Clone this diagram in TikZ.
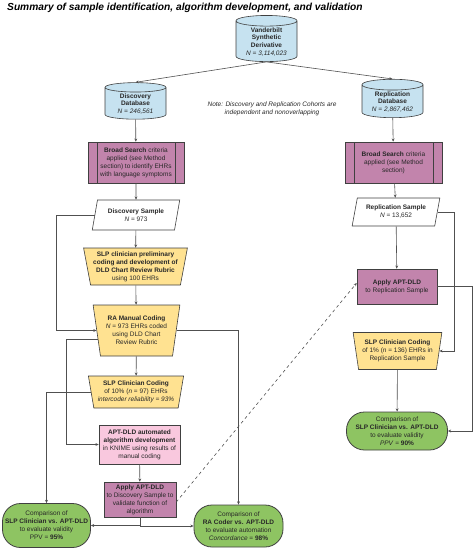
\documentclass[tikz,border=0pt]{standalone}
\usepackage{fontspec}
\setmainfont{Liberation Sans}
\usetikzlibrary{shapes.geometric,arrows.meta}
\definecolor{cdb}{RGB}{198,226,240}
\definecolor{cproc}{RGB}{194,132,172}
\definecolor{cyel}{RGB}{255,226,145}
\definecolor{cpink}{RGB}{249,200,222}
\definecolor{cgreen}{RGB}{142,196,98}
\definecolor{cline}{RGB}{80,80,80}
\definecolor{ctext}{RGB}{40,40,40}

\begin{document}
\begin{tikzpicture}[x=1pt, y=-1pt,
    >={Stealth[length=3.2pt,width=2.8pt]},
    every node/.style={font=\fontsize{6.5}{7.9}\selectfont, text=ctext, align=center, inner sep=1pt},
    base/.style={draw=black!75, line width=0.6pt},
    db/.style={base, cylinder, shape border rotate=90, aspect=0.25, fill=cdb, minimum width=61pt},
    proc/.style={base, fill=cproc, minimum width=96pt, minimum height=41pt,
                 path picture={
                   \draw[black!75, line width=0.6pt] ([xshift=9pt]path picture bounding box.north west) -- ([xshift=9pt]path picture bounding box.south west);
                   \draw[black!75, line width=0.6pt] ([xshift=-9pt]path picture bounding box.north east) -- ([xshift=-9pt]path picture bounding box.south east);}},
    sample/.style={base, fill=white, trapezium, trapezium left angle=75, trapezium right angle=105,
                   trapezium stretches=true, minimum width=88pt},
    manual/.style={base, fill=cyel, trapezium, shape border rotate=180, trapezium angle=78,
                   trapezium stretches=true},
    apply/.style={base, fill=cproc, minimum width=72pt, minimum height=35pt},
    cmp/.style={base, fill=cgreen, line width=0.8pt, rounded corners=18pt},
    conn/.style={cline, line width=0.6pt, ->}
  ]
  \useasboundingbox (0,0) rectangle (474,550);

  % Title
  \node[anchor=west, font=\fontsize{10.2}{12}\selectfont\bfseries\itshape, text=black] (title) at (6,8)
    {Summary of sample identification, algorithm development, and validation};

  % Databases
  \node[db, minimum height=40pt] (vsd) at (266.5,42) {\textbf{Vanderbilt}\\\textbf{Synthetic}\\\textbf{Derivative}\\\textit{N = 3,114,023}};
  \node[db, minimum height=36pt] (ddb) at (135.5,104) {\textbf{Discovery}\\\textbf{Database}\\\textit{N = 246,561}};
  \node[db, minimum height=38pt] (rdb) at (392.5,102) {\textbf{Replication}\\\textbf{Database}\\\textit{N = 2,867,462}};
  \node[font=\fontsize{6.5}{7.9}\selectfont\itshape] (note) at (272,109)
    {Note: Discovery and Replication Cohorts are\\independent and nonoverlapping};

  % Discovery cohort
  \node[proc] (bsl) at (136,162.5) {\textbf{Broad Search} criteria\\applied (see Method\\section) to identify EHRs\\with language symptoms};
  \node[sample, minimum height=30pt] (dsample) at (136,215) {\textbf{Discovery Sample}\\\textit{N} = 973};
  \node[manual, minimum width=105pt, minimum height=37pt] (slpprelim) at (135.5,266.5)
    {\textbf{SLP clinician preliminary}\\\textbf{coding and development of}\\\textbf{DLD Chart Review Rubric}\\using 100 EHRs};
  \node[manual, minimum width=87pt, minimum height=51pt] (ramanual) at (136.5,330.5)
    {\textbf{RA Manual Coding}\\\textit{N} = 973 EHRs coded\\using DLD Chart\\Review Rubric};
  \node[manual, minimum width=96pt, minimum height=32pt] (slpcoding) at (136,392)
    {\textbf{SLP Clinician Coding}\\of 10\% (\textit{n} = 97) EHRs\\\textit{intercoder reliability = 93\%}};
  \node[base, fill=cpink, minimum width=81pt, minimum height=39pt] (aptdev) at (139.5,444.5)
    {\textbf{APT-DLD automated}\\\textbf{algorithm development}\\in KNIME using results of\\manual coding};
  \node[apply] (applyd) at (140,499.5) {\textbf{Apply APT-DLD}\\to Discovery Sample to\\validate function of\\algorithm};
  \node[cmp, minimum width=88pt, minimum height=44pt] (cmpleft) at (46.5,525.5)
    {Comparison of\\\textbf{SLP Clinician vs. APT-DLD}\\to evaluate validity\\PPV = \textbf{95\%}};
  \node[cmp, minimum width=89pt, minimum height=42pt] (racoder) at (238.5,526)
    {Comparison of\\\textbf{RA Coder vs. APT-DLD}\\to evaluate automation\\\textit{Concordance} = \textbf{98\%}};

  % Replication cohort
  \node[proc, minimum width=97pt] (bsr) at (393.5,162.5) {\textbf{Broad Search} criteria\\applied (see Method\\section)};
  \node[sample, minimum height=28pt] (rsample) at (396,212) {\textbf{Replication Sample}\\\textit{N} = 13,652};
  \node[apply, minimum width=80pt] (applyr) at (397,286.5) {\textbf{Apply APT-DLD}\\to Replication Sample};
  \node[manual, minimum width=89pt, minimum height=37pt] (slpr) at (397.5,351)
    {\textbf{SLP Clinician Coding}\\of 1\% (\textit{n} = 136) EHRs in\\Replication Sample};
  \node[cmp, minimum width=101pt, minimum height=38pt] (cmpr) at (397,431)
    {Comparison of\\\textbf{SLP Clinician vs. APT-DLD}\\to evaluate validity\\\textit{PPV} = \textbf{90\%}};

  % Connectors
  \draw[conn] (vsd.south) -- (ddb.north);
  \draw[conn] (vsd.south) -- (rdb.north);
  \draw[conn] (ddb) -- (bsl);
  \draw[conn] (bsl) -- (dsample);
  \draw[conn] (dsample) -- (slpprelim);
  \draw[conn] (slpprelim) -- (ramanual);
  \draw[conn] (dsample.west) -- ++(-38,0) |- (ramanual.west);
  \draw[conn] (ramanual.193) -- ++(-31,0) |- (aptdev.west);
  \draw[conn] (ramanual.east) -| (racoder.north);
  \draw[conn] (ramanual) -- (slpcoding);
  \draw[conn] (slpcoding.west) -| (cmpleft.north);
  \draw[conn] (aptdev) -- (applyd);
  \draw[conn] (applyd.south) |- (cmpleft.east);
  \draw[conn] (applyd.south) |- (racoder.west);
  \draw[conn, dashed] ([yshift=-2.5pt]applyd.east) -- ([yshift=3.5pt]applyr.west);
  \draw[conn] (rdb) -- (bsr);
  \draw[conn] (bsr) -- (rsample);
  \draw[conn] (rsample) -- (applyr);
  \draw[conn] (rsample.east) -- ++(17,0) |- (slpr.east);
  \draw[conn] (applyr.east) -- ++(35,0) |- (cmpr.east);
  \draw[conn] (slpr) -- (cmpr);
\end{tikzpicture}
\end{document}
